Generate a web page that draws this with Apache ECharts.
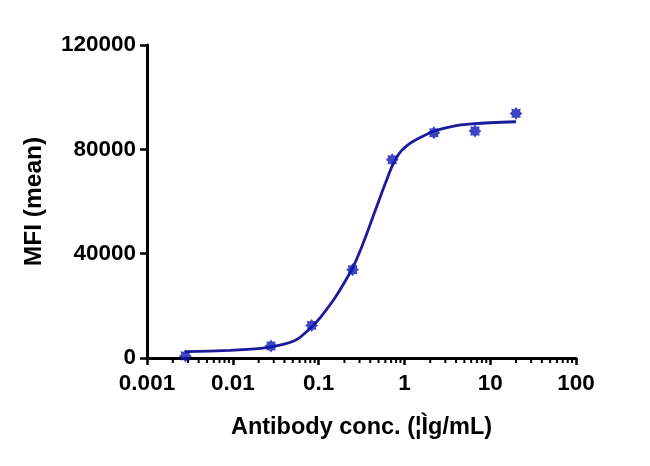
<!DOCTYPE html>
<html>
<head>
<meta charset="utf-8">
<script src="https://cdn.jsdelivr.net/npm/echarts@6/dist/echarts.min.js"></script>
<style>
html,body{margin:0;padding:0;background:#fff;}
#chart{width:650px;height:466px;}
</style>
</head>
<body>
<div id="chart"></div>
<script>
// measured data points
var concData = [0.0028, 0.0279, 0.083, 0.249, 0.72, 2.21, 6.65, 20];
var mfiData = [800, 4600, 12500, 33850, 76000, 86350, 87000, 93770];
// fitted curve
var fitConc = [0.00277, 0.00928, 0.0182, 0.0279, 0.0406, 0.056, 0.0831, 0.104, 0.147, 0.193, 0.250, 0.329, 0.431, 0.563, 0.644, 0.717, 0.820, 0.930, 1.064, 1.216, 1.591, 2.273, 3.889, 6.65, 20];
var fitMfi = [2420, 2890, 3460, 4230, 5380, 7120, 11920, 15380, 21920, 28080, 34610, 43840, 54230, 64610, 69610, 73460, 77110, 79610, 81340, 82690, 84800, 87110, 89040, 89880, 90570];
// axis
var yTicks = [0, 40000, 80000, 120000];
var xMinorTicks = [0.002,0.003,0.004,0.005,0.006,0.007,0.008,0.009,
  0.02,0.03,0.04,0.05,0.06,0.07,0.08,0.09,
  0.2,0.3,0.4,0.5,0.6,0.7,0.8,0.9,
  2,3,4,5,6,7,8,9,
  20,30,40,50,60,70,80,90];

var starPath = 'path://M200,100L164.7,126.8L170.7,170.7L126.8,164.7L100,200L73.2,164.7L29.3,170.7L35.3,126.8L0,100L35.3,73.2L29.3,29.3L73.2,35.3L100,0L126.8,35.3L170.7,29.3L164.7,73.2Z';

var chart = echarts.init(document.getElementById('chart'));
var font = 'Liberation Sans, Arial, sans-serif';
var option = {
  animation: false,
  backgroundColor: '#ffffff',
  grid: {left: 147, right: 74, top: 45, bottom: 108, containLabel: false},
  xAxis: {
    type: 'log', logBase: 10, min: 0.001, max: 100,
    name: 'Antibody conc. (¦Ìg/mL)',
    nameLocation: 'middle', nameGap: 58,
    nameTextStyle: {fontFamily: font, fontWeight: 'bold', fontSize: 23.5, color: '#000'},
    axisLine: {lineStyle: {color: '#000', width: 3}},
    axisTick: {show: true, length: 7, lineStyle: {color: '#000', width: 2.5}},
    axisLabel: {
      fontFamily: font, fontWeight: 'bold', fontSize: 22.5, color: '#000', margin: 14,
      formatter: function (v) { return String(v); }
    },
    splitLine: {show: false}
  },
  yAxis: {
    type: 'value', min: 0, max: 120000, interval: 40000,
    name: 'MFI (mean)',
    nameLocation: 'middle', nameGap: 100, nameRotate: 90,
    nameTextStyle: {fontFamily: font, fontWeight: 'bold', fontSize: 24.5, color: '#000'},
    axisLine: {show: true, lineStyle: {color: '#000', width: 3}},
    axisTick: {show: true, length: 7, lineStyle: {color: '#000', width: 2.5}},
    axisLabel: {
      fontFamily: font, fontWeight: 'bold', fontSize: 22.5, color: '#000', margin: 11,
      formatter: function (v) { return String(v); }
    },
    splitLine: {show: false}
  },
  series: [
    {
      type: 'custom',
      silent: true,
      clip: false,
      data: xMinorTicks.map(function (v) { return [v, 0]; }),
      renderItem: function (params, api) {
        var p = api.coord([api.value(0), 0]);
        return {
          type: 'line',
          shape: {x1: p[0], y1: p[1], x2: p[0], y2: p[1] + 5},
          style: {stroke: '#000', lineWidth: 2}
        };
      },
      z: 1
    },
    {
      type: 'line',
      data: fitConc.map(function (c, i) { return [c, fitMfi[i]]; }),
      showSymbol: false,
      smooth: 0.25,
      lineStyle: {color: '#1b1b9c', width: 2.8},
      z: 3
    },
    {
      type: 'scatter',
      data: concData.map(function (c, i) { return [c, mfiData[i]]; }),
      symbol: starPath,
      symbolSize: 13,
      itemStyle: {color: '#0c18b0'},
      z: 4
    }
  ]
};
chart.setOption(option);
</script>
</body>
</html>
